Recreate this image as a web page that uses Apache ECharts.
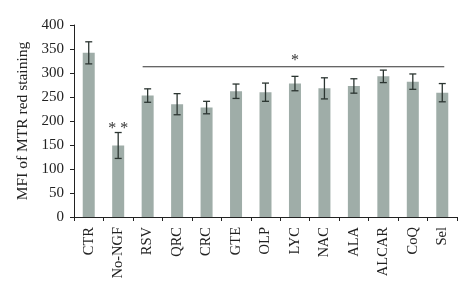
<!DOCTYPE html>
<html><head><meta charset="utf-8">
<script src="https://cdn.jsdelivr.net/npm/echarts@6/dist/echarts.min.js"></script>
<style>html,body{margin:0;padding:0;background:#fff}#c{width:474px;height:299px}</style>
</head><body><div id="c"></div>
<script>
const categories = ['CTR','No-NGF','RSV','QRC','CRC','GTE','OLP','LYC','NAC','ALA','ALCAR','CoQ','Sel'];
const values = [342, 149, 253, 235, 228, 262, 260, 278, 268, 273, 293, 282, 259];
const errors = [23, 27, 14, 22, 13, 15, 19, 15, 22, 15, 13, 16, 19];
const yTicks = [0, 50, 100, 150, 200, 250, 300, 350, 400];
const bracketLevel = 313;
const bracketFrom = 'RSV', bracketTo = 'Sel';

const chart = echarts.init(document.getElementById('c'));
const font = '"Liberation Serif", "DejaVu Serif", serif';
chart.setOption({
  animation: false,
  grid: {left: 74, right: 17, top: 25, bottom: 82},
  xAxis: {
    type: 'category', data: categories,
    axisLine: {lineStyle: {color: '#222', width: 1}},
    axisTick: {show: true, length: 4, lineStyle: {color: '#222'}},
    axisLabel: {rotate: 90, color: '#222', fontFamily: font, fontSize: 14.5, margin: 10}
  },
  yAxis: {
    type: 'value', min: yTicks[0], max: yTicks[yTicks.length-1], interval: 50,
    name: 'MFI of MTR red staining', nameLocation: 'middle', nameGap: 43,
    nameTextStyle: {color: '#222', fontFamily: font, fontSize: 15.5},
    axisLine: {show: true, lineStyle: {color: '#222', width: 1}},
    axisTick: {show: true, length: 4, lineStyle: {color: '#222'}},
    splitLine: {show: false},
    axisLabel: {color: '#222', fontFamily: font, fontSize: 15, margin: 10}
  },
  series: [
    {type: 'bar', data: values, barWidth: 12, itemStyle: {color: '#9fada8'}},
    {type: 'custom', data: values.map((v, i) => [i, v, errors[i]]),
     renderItem: function(params, api) {
       const i = api.value(0), v = api.value(1), e = api.value(2);
       const top = api.coord([i, v + e]), bot = api.coord([i, v - e]);
       const x = top[0], hw = 3.5;
       const st = {stroke: '#2b3531', lineWidth: 1.3};
       return {type: 'group', children: [
         {type: 'line', shape: {x1: x, y1: top[1], x2: x, y2: bot[1]}, style: st},
         {type: 'line', shape: {x1: x-hw, y1: top[1], x2: x+hw, y2: top[1]}, style: st},
         {type: 'line', shape: {x1: x-hw, y1: bot[1], x2: x+hw, y2: bot[1]}, style: st}
       ]};
     }, z: 5},
    {type: 'custom', data: [[categories.indexOf(bracketFrom), categories.indexOf(bracketTo), bracketLevel]],
     renderItem: function(params, api) {
       const a = api.coord([api.value(0), api.value(2)]);
       const b = api.coord([api.value(1), api.value(2)]);
       const mid = (a[0] + b[0]) / 2;
       const ng = api.coord([1, values[1] + errors[1]]);
       return {type: 'group', children: [
         {type: 'line', shape: {x1: a[0]-5, y1: a[1], x2: b[0]+2, y2: b[1]}, style: {stroke: '#333', lineWidth: 1}},
         {type: 'text', style: {text: '*', x: mid, y: a[1] + 2, fill: '#333', font: '16px ' + font, align: 'center', verticalAlign: 'bottom'}},
         {type: 'text', style: {text: '* *', x: ng[0], y: ng[1] + 4, fill: '#333', font: '16px ' + font, align: 'center', verticalAlign: 'bottom'}}
       ]};
     }, z: 6}
  ]
});
</script></body></html>
